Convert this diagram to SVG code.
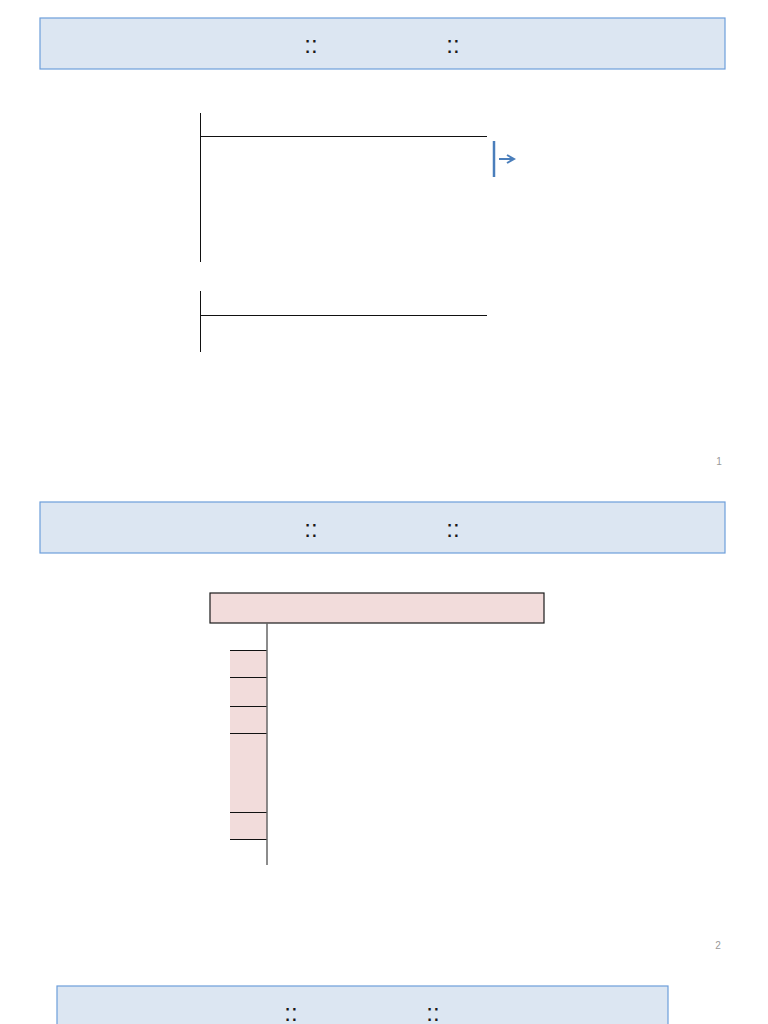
<svg xmlns="http://www.w3.org/2000/svg" width="768" height="1024" viewBox="0 0 768 1024">
<style>
.hdr{fill:#dce6f2;stroke:#6d9eda;stroke-width:1.2}
.col{font-family:"Liberation Sans",Arial,sans-serif;font-size:24px;fill:#1a1a1a;text-anchor:middle}
.pg{font-family:"Liberation Sans",Arial,sans-serif;font-size:10px;fill:#999999;text-anchor:middle}
.ln{stroke:#111111;stroke-width:1;fill:none;shape-rendering:crispEdges}
.gln{stroke:#666666;stroke-width:1.5;fill:none}
.pink{fill:#f2dcdb;stroke:#1a1a1a;stroke-width:1.2}
.pf{fill:#f2dcdb;stroke:none}
</style>
<defs>
<marker id="ah" viewBox="0 0 10 10" refX="8" refY="5" markerWidth="5" markerHeight="5" orient="auto">
<path d="M1,1 L8,5 L1,9" fill="none" stroke="#4a7ebb" stroke-width="2"/>
</marker>
</defs>
<rect width="768" height="1024" fill="#ffffff"/>

<g id="header1">
<rect class="hdr" x="40" y="18" width="685" height="51"/>
<text class="col" x="311" y="53">::</text>
<text class="col" x="453" y="53">::</text>
</g>

<g id="tree1">
<line class="ln" x1="200" y1="113" x2="200" y2="262"/>
<line class="ln" x1="200" y1="136" x2="487" y2="136"/>
</g>
<g id="marker1">
<line x1="494" y1="141" x2="494" y2="177" stroke="#4a7ebb" stroke-width="2.5"/>
</g>

<g id="tree2">
<line class="ln" x1="200" y1="291" x2="200" y2="352"/>
<line class="ln" x1="200" y1="315" x2="487" y2="315"/>
</g>

<g id="page1"><text class="pg" x="719" y="465">1</text></g>

<g id="header2">
<rect class="hdr" x="40" y="502" width="685" height="51"/>
<text class="col" x="311" y="537">::</text>
<text class="col" x="453" y="537">::</text>
</g>

<g id="topbox">
<rect class="pink" x="210" y="593" width="334" height="30"/>
</g>

<g id="sidebars">
<rect class="pf" x="230" y="650" width="37" height="189"/>
<line class="ln" x1="230" y1="650" x2="267" y2="650"/>
<line class="ln" x1="230" y1="677" x2="267" y2="677"/>
<line class="ln" x1="230" y1="706" x2="267" y2="706"/>
<line class="ln" x1="230" y1="733" x2="267" y2="733"/>
<line class="ln" x1="230" y1="812" x2="267" y2="812"/>
<line class="ln" x1="230" y1="839" x2="267" y2="839"/>
</g>

<g id="page2"><text class="pg" x="718" y="949">2</text></g>

<g id="header3">
<rect class="hdr" x="57" y="986" width="611" height="50"/>
<text class="col" x="291" y="1021">::</text>
<text class="col" x="433" y="1021">::</text>
</g>

<g id="connectors">
<line x1="499" y1="159" x2="514" y2="159" stroke="#4a7ebb" stroke-width="2" marker-end="url(#ah)"/>
<line class="gln" x1="267" y1="623" x2="267" y2="865"/>
</g>
</svg>
